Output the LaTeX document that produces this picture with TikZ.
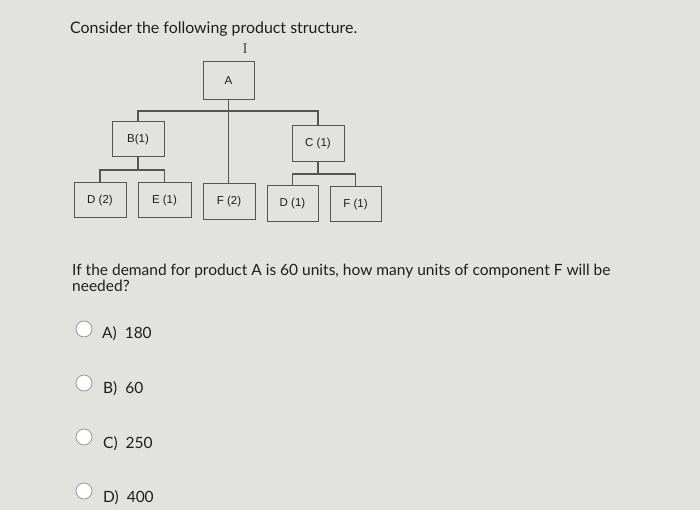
\documentclass[tikz,border=0pt]{standalone}
\usepackage{fontspec}
\setmainfont{Lato}
\newfontfamily\arialf{Liberation Sans}
\newfontfamily\seriff{Liberation Serif}
\definecolor{bg}{RGB}{226,226,223}
\definecolor{ln}{RGB}{85,85,85}
\definecolor{txt}{RGB}{30,30,30}
\begin{document}
\begin{tikzpicture}[x=1pt,y=-1pt,
  part/.style={draw=ln,line width=1pt,minimum width=52pt,minimum height=36pt,inner sep=0pt,font=\arialf\fontsize{11.5}{13}\selectfont,text=txt},
  conn/.style={draw=ln,line width=1.1pt},
  qtext/.style={anchor=base west,inner sep=0pt,font=\fontsize{15.5}{18}\selectfont,text=txt},
  radio/.style={circle,draw=gray!80,fill=white,line width=0.8pt,minimum size=16pt,inner sep=0pt}]
\fill[bg] (0,0) rectangle (700,510);
\useasboundingbox (0,0) rectangle (700,510);

\node[qtext,font=\fontsize{15.9}{18}\selectfont] (title) at (70,33.5) {Consider the following product structure.};
\node[inner sep=0pt,font=\seriff\fontsize{15}{15}\selectfont,text=txt!80] (cursor) at (245,49) {I};

\node[part,minimum width=51pt,minimum height=38pt] (A) at (228.5,81) {A};
\node[part,minimum height=35pt] (B) at (138,139.5) {B(1)};
\node[part] (C) at (318,144) {C (1)};
\node[part,minimum height=35pt] (D2) at (100,200.5) {D (2)};
\node[part,minimum width=53pt,minimum height=35pt] (E1) at (164.5,200.5) {E (1)};
\node[part] (F2) at (229,202) {F (2)};
\node[part,minimum width=51pt] (D1) at (292.5,204) {D (1)};
\node[part,minimum width=51pt,minimum height=35pt] (F1) at (355.5,204.5) {F (1)};

\coordinate (barA) at (228.5,111);
\coordinate (barB) at (138,170);
\coordinate (barC) at (318,174);
\draw[conn] (A.south) -- (A.south |- F2.north);
\draw[conn] (B.north) |- (barA) -| (C.north);
\draw[conn] (B.south) -- (barB);
\draw[conn] (D2.north) |- (barB) -| (E1.north);
\draw[conn] (C.south) -- (barC);
\draw[conn] (D1.north) |- (barC) -| (F1.north);

\node[qtext] (q1) at (72,275) {If the demand for product A is 60 units, how many units of component F will be};
\node[qtext] (q2) at (72,291) {needed?};

\node[radio] (ra) at (84,329) {};
\node[radio] (rb) at (84,383) {};
\node[radio] (rc) at (84,437) {};
\node[radio] (rd) at (84,491) {};
\node[qtext] (oa) at (102,338) {A)\ \ 180};
\node[qtext] (ob) at (103,393) {B)\ \ 60};
\node[qtext] (oc) at (103,448) {C)\ \ 250};
\node[qtext] (od) at (103,502) {D)\ \ 400};
\end{tikzpicture}
\end{document}
